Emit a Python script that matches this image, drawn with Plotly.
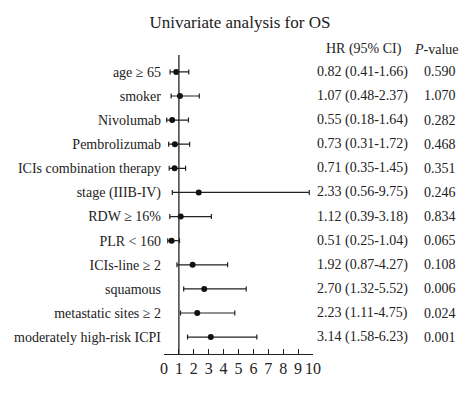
import plotly.graph_objects as go

labels = ["age \u2265 65", "smoker", "Nivolumab", "Pembrolizumab", "ICIs combination therapy",
          "stage (IIIB-IV)", "RDW \u2265 16%", "PLR < 160", "ICIs-line \u2265 2", "squamous",
          "metastatic sites \u2265 2", "moderately high-risk ICPI"]
hr = [0.82, 1.07, 0.55, 0.73, 0.71, 2.33, 1.12, 0.51, 1.92, 2.70, 2.23, 3.14]
ci_low = [0.41, 0.48, 0.18, 0.31, 0.35, 0.56, 0.39, 0.25, 0.87, 1.32, 1.11, 1.58]
ci_high = [1.66, 2.37, 1.64, 1.72, 1.45, 9.75, 3.18, 1.04, 4.27, 5.52, 4.75, 6.23]
p_values = ["0.590", "1.070", "0.282", "0.468", "0.351", "0.246", "0.834", "0.065",
            "0.108", "0.006", "0.024", "0.001"]
x_ticks = list(range(0, 11))

FONT = "Liberation Serif"
COL = "#222222"
rows = list(range(len(labels)))

fig = go.Figure()
fig.add_trace(go.Scatter(
    x=hr, y=rows, mode="markers",
    marker=dict(color="#111111", size=6),
    error_x=dict(type="data", symmetric=False,
                 array=[h - v for h, v in zip(ci_high, hr)],
                 arrayminus=[v - l for v, l in zip(hr, ci_low)],
                 color=COL, thickness=1.2, width=2.5),
    showlegend=False, cliponaxis=False,
))

# reference line at HR = 1
fig.add_shape(type="line", x0=1, x1=1, xref="x", y0=0, y1=1, yref="paper",
              line=dict(color=COL, width=1.3))

L, R, T, B = 164, 161, 55, 41
W, H = 474, 395
pw = W - L - R

def px_to_paper(px):
    return (px - L) / pw

annotations = []
for i, (h, lo, hi, p) in enumerate(zip(hr, ci_low, ci_high, p_values)):
    annotations.append(dict(x=px_to_paper(410), xref="paper", y=i, yref="y",
                            text=f"{h:.2f} ({lo:.2f}-{hi:.2f})", showarrow=False,
                            xanchor="right", font=dict(family=FONT, size=14, color=COL)))
    annotations.append(dict(x=px_to_paper(458), xref="paper", y=i, yref="y",
                            text=p, showarrow=False,
                            xanchor="right", font=dict(family=FONT, size=14, color=COL)))
annotations.append(dict(x=px_to_paper(364), xref="paper", y=(H - 49 - B) / (H - T - B), yref="paper",
                        text="HR (95% CI)", showarrow=False, xanchor="center", yanchor="middle",
                        font=dict(family=FONT, size=14, color=COL)))
annotations.append(dict(x=px_to_paper(436), xref="paper", y=(H - 49 - B) / (H - T - B), yref="paper",
                        text="<i>P</i>-value", showarrow=False, xanchor="center", yanchor="middle",
                        font=dict(family=FONT, size=14, color=COL)))

fig.update_layout(
    width=W, height=H,
    margin=dict(l=L, r=R, t=T, b=B, autoexpand=False),
    paper_bgcolor="white", plot_bgcolor="white",
    title=dict(text="Univariate analysis for OS", x=240 / W, xanchor="center",
               y=1 - 22 / H, yanchor="middle", automargin=False,
               font=dict(family=FONT, size=17, color=COL)),
    annotations=annotations,
    xaxis=dict(range=[0, 10], tickvals=x_ticks, ticks="inside", ticklen=5,
               tickwidth=1.2, tickcolor=COL, showline=True, linecolor=COL, linewidth=1.2,
               showgrid=False, zeroline=False, automargin=False,
               tickfont=dict(family=FONT, size=16, color=COL)),
    yaxis=dict(range=[11.7, -0.7], tickvals=rows, ticktext=labels, showgrid=False,
               zeroline=False, showline=False, ticks="", ticklabelstandoff=2,
               automargin=False,
               tickfont=dict(family=FONT, size=14, color=COL)),
)

fig.write_html("out.html", config={"displayModeBar": False},
               post_script="document.body.style.margin='0';document.body.style.overflow='hidden';")
